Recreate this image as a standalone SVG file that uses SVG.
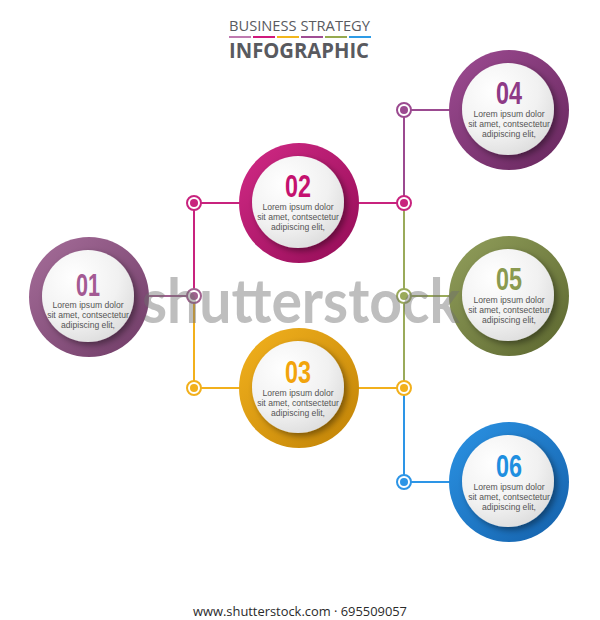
<svg xmlns="http://www.w3.org/2000/svg" width="600" height="620" viewBox="0 0 600 620">
<style>
.title{font-family:"Open Sans","Liberation Sans",sans-serif;fill:#595a5f}
.num{font-family:"Liberation Sans","DejaVu Sans",sans-serif;font-weight:bold;font-size:31px;text-anchor:middle}
.body{font-family:"Liberation Sans","DejaVu Sans",sans-serif;font-size:8.6px;fill:#555;text-anchor:middle}
.inner{fill:url(#inner);filter:url(#sh)}
.line{fill:none;stroke-width:2}
.jr{fill:#fff;stroke-width:2}
</style>
<defs>
<filter id="sh" x="-30%" y="-30%" width="160%" height="160%">
<feDropShadow dx="3" dy="3" stdDeviation="3" flood-color="#000" flood-opacity="0.4"/>
</filter>
<radialGradient id="inner" cx="0.35" cy="0.3" r="0.8">
<stop offset="0" stop-color="#ffffff"/>
<stop offset="0.6" stop-color="#f1f1f1"/>
<stop offset="1" stop-color="#dadada"/>
</radialGradient>
<linearGradient id="g1" x1="0" y1="0" x2="1" y2="1"><stop offset="0" stop-color="#a66e9a"/><stop offset="1" stop-color="#6f3b66"/></linearGradient>
<linearGradient id="g2" x1="0" y1="0" x2="1" y2="1"><stop offset="0" stop-color="#d22a86"/><stop offset="1" stop-color="#930c56"/></linearGradient>
<linearGradient id="g3" x1="0" y1="0" x2="1" y2="1"><stop offset="0" stop-color="#f3b21e"/><stop offset="1" stop-color="#c08206"/></linearGradient>
<linearGradient id="g4" x1="0" y1="0" x2="1" y2="1"><stop offset="0" stop-color="#9e4c93"/><stop offset="1" stop-color="#66265c"/></linearGradient>
<linearGradient id="g5" x1="0" y1="0" x2="1" y2="1"><stop offset="0" stop-color="#929f5c"/><stop offset="1" stop-color="#5b662e"/></linearGradient>
<linearGradient id="g6" x1="0" y1="0" x2="1" y2="1"><stop offset="0" stop-color="#2b93e4"/><stop offset="1" stop-color="#1460aa"/></linearGradient>
</defs>
<rect width="600" height="620" fill="#fff"/>

<g id="title">
<text class="title" x="229" y="31" font-size="14" textLength="141" lengthAdjust="spacingAndGlyphs">BUSINESS STRATEGY</text>
<rect x="229" y="36" width="22" height="2" fill="#c07ab0"/>
<rect x="253" y="36" width="22" height="2" fill="#d0197c"/>
<rect x="277" y="36" width="22" height="2" fill="#f2b61c"/>
<rect x="301" y="36" width="22" height="2" fill="#a04d94"/>
<rect x="325" y="36" width="22" height="2" fill="#96a94f"/>
<rect x="349" y="36" width="22" height="2" fill="#2d9be6"/>
<text class="title" x="229" y="58" font-size="22" font-weight="bold" textLength="140" lengthAdjust="spacingAndGlyphs">INFOGRAPHIC</text>
</g>

<g id="connectors">
<line class="line" x1="149" y1="296" x2="194" y2="296" stroke="#a0608f"/>
<line class="line" x1="194" y1="203" x2="194" y2="296" stroke="#c8237e"/>
<line class="line" x1="194" y1="296" x2="194" y2="388" stroke="#f2b01c"/>
<line class="line" x1="194" y1="203" x2="240" y2="203" stroke="#c8237e"/>
<line class="line" x1="194" y1="388" x2="240" y2="388" stroke="#f2b01c"/>
<line class="line" x1="358" y1="203" x2="404" y2="203" stroke="#c8237e"/>
<line class="line" x1="358" y1="388" x2="404" y2="388" stroke="#f2b01c"/>
<line class="line" x1="404" y1="110" x2="404" y2="203" stroke="#9b4a90"/>
<line class="line" x1="404" y1="203" x2="404" y2="388" stroke="#9aaa5a"/>
<line class="line" x1="404" y1="388" x2="404" y2="482" stroke="#2d95e6"/>
<line class="line" x1="404" y1="110" x2="450" y2="110" stroke="#9b4a90"/>
<line class="line" x1="404" y1="296" x2="450" y2="296" stroke="#9aaa5a"/>
<line class="line" x1="404" y1="482" x2="450" y2="482" stroke="#2d95e6"/>
<circle class="jr" cx="194" cy="296" r="7" stroke="#a0608f"/><circle cx="194" cy="296" r="4" fill="#a0608f"/>
<circle class="jr" cx="194" cy="203" r="7" stroke="#c8237e"/><circle cx="194" cy="203" r="4" fill="#c8237e"/>
<circle class="jr" cx="194" cy="388" r="7" stroke="#f2b01c"/><circle cx="194" cy="388" r="4" fill="#f2b01c"/>
<circle class="jr" cx="404" cy="110" r="7" stroke="#9b4a90"/><circle cx="404" cy="110" r="4" fill="#9b4a90"/>
<circle class="jr" cx="404" cy="203" r="7" stroke="#c8237e"/><circle cx="404" cy="203" r="4" fill="#c8237e"/>
<circle class="jr" cx="404" cy="296" r="7" stroke="#9aaa5a"/><circle cx="404" cy="296" r="4" fill="#9aaa5a"/>
<circle class="jr" cx="404" cy="388" r="7" stroke="#f2b01c"/><circle cx="404" cy="388" r="4" fill="#f2b01c"/>
<circle class="jr" cx="404" cy="482" r="7" stroke="#2d95e6"/><circle cx="404" cy="482" r="4" fill="#2d95e6"/>
</g>

<g id="node-01">
<circle cx="89" cy="297" r="60" fill="url(#g1)"/>
<circle class="inner" cx="88" cy="296" r="46"/>
<text class="num" x="88" y="296" fill="#a35a93" textLength="24" lengthAdjust="spacingAndGlyphs">01</text>
<text class="body"><tspan x="88" y="308">Lorem ipsum dolor</tspan><tspan x="88" y="318">sit amet, contsectetur</tspan><tspan x="88" y="328">adipiscing elit,</tspan></text>
</g>

<g id="node-02">
<circle cx="299" cy="203" r="60" fill="url(#g2)"/>
<circle class="inner" cx="298" cy="202" r="46"/>
<text class="num" x="298" y="197" fill="#c4126f" textLength="26" lengthAdjust="spacingAndGlyphs">02</text>
<text class="body"><tspan x="298" y="210">Lorem ipsum dolor</tspan><tspan x="298" y="220">sit amet, contsectetur</tspan><tspan x="298" y="230">adipiscing elit,</tspan></text>
</g>

<g id="node-03">
<circle cx="299" cy="388" r="60" fill="url(#g3)"/>
<circle class="inner" cx="298" cy="387" r="46"/>
<text class="num" x="298" y="383" fill="#f2a40d" textLength="26" lengthAdjust="spacingAndGlyphs">03</text>
<text class="body"><tspan x="298" y="396">Lorem ipsum dolor</tspan><tspan x="298" y="406">sit amet, contsectetur</tspan><tspan x="298" y="416">adipiscing elit,</tspan></text>
</g>

<g id="node-04">
<circle cx="509" cy="110" r="60" fill="url(#g4)"/>
<circle class="inner" cx="508" cy="109" r="46"/>
<text class="num" x="509" y="104" fill="#8e3a86" textLength="26" lengthAdjust="spacingAndGlyphs">04</text>
<text class="body"><tspan x="509" y="117">Lorem ipsum dolor</tspan><tspan x="509" y="127">sit amet, contsectetur</tspan><tspan x="509" y="137">adipiscing elit,</tspan></text>
</g>

<g id="node-05">
<circle cx="509" cy="296" r="60" fill="url(#g5)"/>
<circle class="inner" cx="508" cy="295" r="46"/>
<text class="num" x="509" y="290" fill="#8a9a50" textLength="26" lengthAdjust="spacingAndGlyphs">05</text>
<text class="body"><tspan x="509" y="303">Lorem ipsum dolor</tspan><tspan x="509" y="313">sit amet, contsectetur</tspan><tspan x="509" y="323">adipiscing elit,</tspan></text>
</g>

<g id="node-06">
<circle cx="509" cy="482" r="60" fill="url(#g6)"/>
<circle class="inner" cx="508" cy="481" r="46"/>
<text class="num" x="509" y="477" fill="#1f8fe0" textLength="26" lengthAdjust="spacingAndGlyphs">06</text>
<text class="body"><tspan x="509" y="490">Lorem ipsum dolor</tspan><tspan x="509" y="500">sit amet, contsectetur</tspan><tspan x="509" y="510">adipiscing elit,</tspan></text>
</g>

<g id="watermark">
<text x="142" y="323" font-family="Lato,'Liberation Sans',sans-serif" font-weight="bold" font-size="62" fill="#6e6e6e" fill-opacity="0.45" textLength="318" lengthAdjust="spacingAndGlyphs">shutterstock</text>
</g>

<g id="footer">
<text x="193" y="616" font-family="'Open Sans','Liberation Sans',sans-serif" font-size="13" fill="#2a2a2a" textLength="214" lengthAdjust="spacingAndGlyphs">www.shutterstock.com · 695509057</text>
</g>
</svg>
